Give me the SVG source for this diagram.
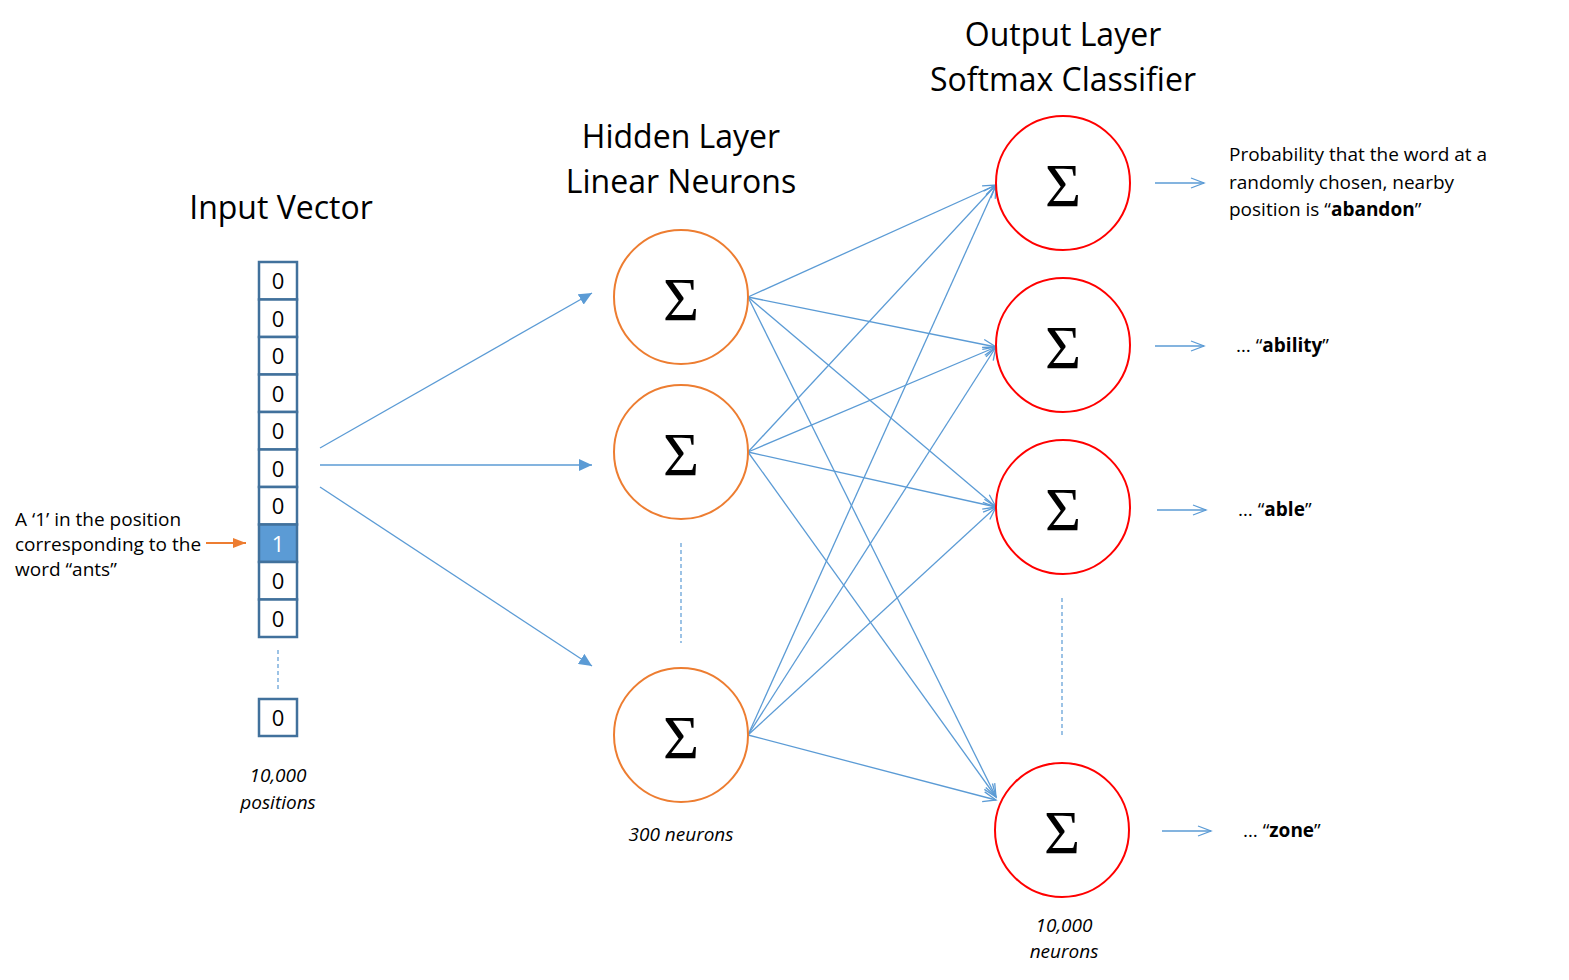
<svg xmlns="http://www.w3.org/2000/svg" width="1569" height="980" viewBox="0 0 1569 980">
<style>
text{font-family:"Open Sans","Liberation Sans",sans-serif;fill:#000}
.t{font-size:32px;text-anchor:middle}
.c{font-size:22px;text-anchor:middle}
.s{font-size:19px}
.i{font-size:19px;font-style:italic;text-anchor:middle}
.sig{font-family:"Liberation Serif",serif;font-size:62px;text-anchor:middle}
.hid{fill:#fff;stroke:#ED7D31;stroke-width:2}
.out{fill:#fff;stroke:#FF0000;stroke-width:2}
.cell{fill:#fff;stroke:#41719C;stroke-width:2.5}
.e{stroke:#5B9BD5;stroke-width:1.3;fill:none;marker-end:url(#o)}
.d{stroke:#5B9BD5;stroke-width:1.2;stroke-dasharray:4 3}
</style>
<defs>
<marker id="o" markerWidth="16" markerHeight="12" refX="14" refY="6" orient="auto" markerUnits="userSpaceOnUse"><path d="M1,1 L14,6 L1,11" fill="none" stroke="#5B9BD5" stroke-width="1.3"/></marker>
<marker id="f" markerWidth="14" markerHeight="12" refX="13" refY="6" orient="auto" markerUnits="userSpaceOnUse"><path d="M0,0 L13,6 L0,12 z" fill="#5B9BD5"/></marker>
<marker id="or" markerWidth="14" markerHeight="12" refX="13" refY="6" orient="auto" markerUnits="userSpaceOnUse"><path d="M0,1 L13,6 L0,11 z" fill="#ED7D31"/></marker>
</defs>
<text class="t" x="281" y="219">Input Vector</text>
<text class="t" x="681" y="148">Hidden Layer</text>
<text class="t" x="681" y="193">Linear Neurons</text>
<text class="t" x="1063" y="46">Output Layer</text>
<text class="t" x="1063" y="91">Softmax Classifier</text>
<g id="input">
<rect class="cell" x="259" y="262" width="38" height="37.5"/><text class="c" x="278" y="289">0</text>
<rect class="cell" x="259" y="299.5" width="38" height="37.5"/><text class="c" x="278" y="327">0</text>
<rect class="cell" x="259" y="337" width="38" height="37.5"/><text class="c" x="278" y="364">0</text>
<rect class="cell" x="259" y="374.5" width="38" height="37.5"/><text class="c" x="278" y="402">0</text>
<rect class="cell" x="259" y="412" width="38" height="37.5"/><text class="c" x="278" y="439">0</text>
<rect class="cell" x="259" y="449.5" width="38" height="37.5"/><text class="c" x="278" y="477">0</text>
<rect class="cell" x="259" y="487" width="38" height="37.5"/><text class="c" x="278" y="514">0</text>
<rect class="cell" x="259" y="524.5" width="38" height="37.5" style="fill:#5B9BD5"/><text class="c" x="278" y="552" style="fill:#fff">1</text>
<rect class="cell" x="259" y="562" width="38" height="37.5"/><text class="c" x="278" y="589">0</text>
<rect class="cell" x="259" y="599.5" width="38" height="37.5"/><text class="c" x="278" y="627">0</text>
<rect class="cell" x="259" y="699" width="38" height="37"/><text class="c" x="278" y="726">0</text>
<text class="i" x="278" y="782">10,000</text><text class="i" x="278" y="809">positions</text>
</g>
<g id="annot">
<text class="s" x="15" y="526">A ‘1’ in the position</text>
<text class="s" x="15" y="551">corresponding to the</text>
<text class="s" x="15" y="576">word “ants”</text>
</g>
<g id="connectors">
<line x1="206" y1="543" x2="246" y2="543" stroke="#ED7D31" stroke-width="2" marker-end="url(#or)"/>
<line class="d" x1="278" y1="650" x2="278" y2="692"/>
<line class="d" x1="681" y1="543" x2="681" y2="643"/>
<line class="d" x1="1062" y1="598" x2="1062" y2="738"/>
<line x1="320" y1="448" x2="592" y2="293" stroke="#5B9BD5" stroke-width="1.3" marker-end="url(#f)"/>
<line x1="320" y1="465" x2="592" y2="465" stroke="#5B9BD5" stroke-width="1.3" marker-end="url(#f)"/>
<line x1="320" y1="487" x2="592" y2="666" stroke="#5B9BD5" stroke-width="1.3" marker-end="url(#f)"/>
<line class="e" x1="748" y1="297" x2="996" y2="185"/>
<line class="e" x1="748" y1="297" x2="996" y2="347"/>
<line class="e" x1="748" y1="297" x2="996" y2="507"/>
<line class="e" x1="748" y1="297" x2="996" y2="797"/>
<line class="e" x1="748" y1="452" x2="996" y2="185"/>
<line class="e" x1="748" y1="452" x2="996" y2="347"/>
<line class="e" x1="748" y1="452" x2="996" y2="507"/>
<line class="e" x1="748" y1="452" x2="996" y2="797"/>
<line class="e" x1="748" y1="735" x2="996" y2="185"/>
<line class="e" x1="748" y1="735" x2="996" y2="347"/>
<line class="e" x1="748" y1="735" x2="996" y2="507"/>
<line class="e" x1="748" y1="735" x2="996" y2="800"/>
<line class="e" x1="1155" y1="183" x2="1204" y2="183"/>
<line class="e" x1="1155" y1="346" x2="1204" y2="346"/>
<line class="e" x1="1157" y1="510" x2="1206" y2="510"/>
<line class="e" x1="1162" y1="831" x2="1211" y2="831"/>
</g>
<g id="h1"><circle class="hid" cx="681" cy="297" r="67"/><text class="sig" x="681" y="320">Σ</text></g>
<g id="h2"><circle class="hid" cx="681" cy="452" r="67"/><text class="sig" x="681" y="475">Σ</text></g>
<g id="h3"><circle class="hid" cx="681" cy="735" r="67"/><text class="sig" x="681" y="758">Σ</text></g>
<text class="i" x="681" y="841">300 neurons</text>
<g id="o1"><circle class="out" cx="1063" cy="183" r="67"/><text class="sig" x="1063" y="206">Σ</text></g>
<g id="o2"><circle class="out" cx="1063" cy="345" r="67"/><text class="sig" x="1063" y="368">Σ</text></g>
<g id="o3"><circle class="out" cx="1063" cy="507" r="67"/><text class="sig" x="1063" y="530">Σ</text></g>
<g id="o4"><circle class="out" cx="1062" cy="830" r="67"/><text class="sig" x="1062" y="853">Σ</text></g>
<text class="i" x="1064" y="932">10,000</text><text class="i" x="1064" y="958">neurons</text>
<g id="labels">
<text class="s" x="1229" y="161">Probability that the word at a</text>
<text class="s" x="1229" y="189">randomly chosen, nearby</text>
<text class="s" x="1229" y="216">position is “<tspan font-weight="bold">abandon</tspan>”</text>
<text class="s" x="1236" y="352">… “<tspan font-weight="bold">ability</tspan>”</text>
<text class="s" x="1238" y="516">… “<tspan font-weight="bold">able</tspan>”</text>
<text class="s" x="1243" y="837">… “<tspan font-weight="bold">zone</tspan>”</text>
</g>
</svg>
